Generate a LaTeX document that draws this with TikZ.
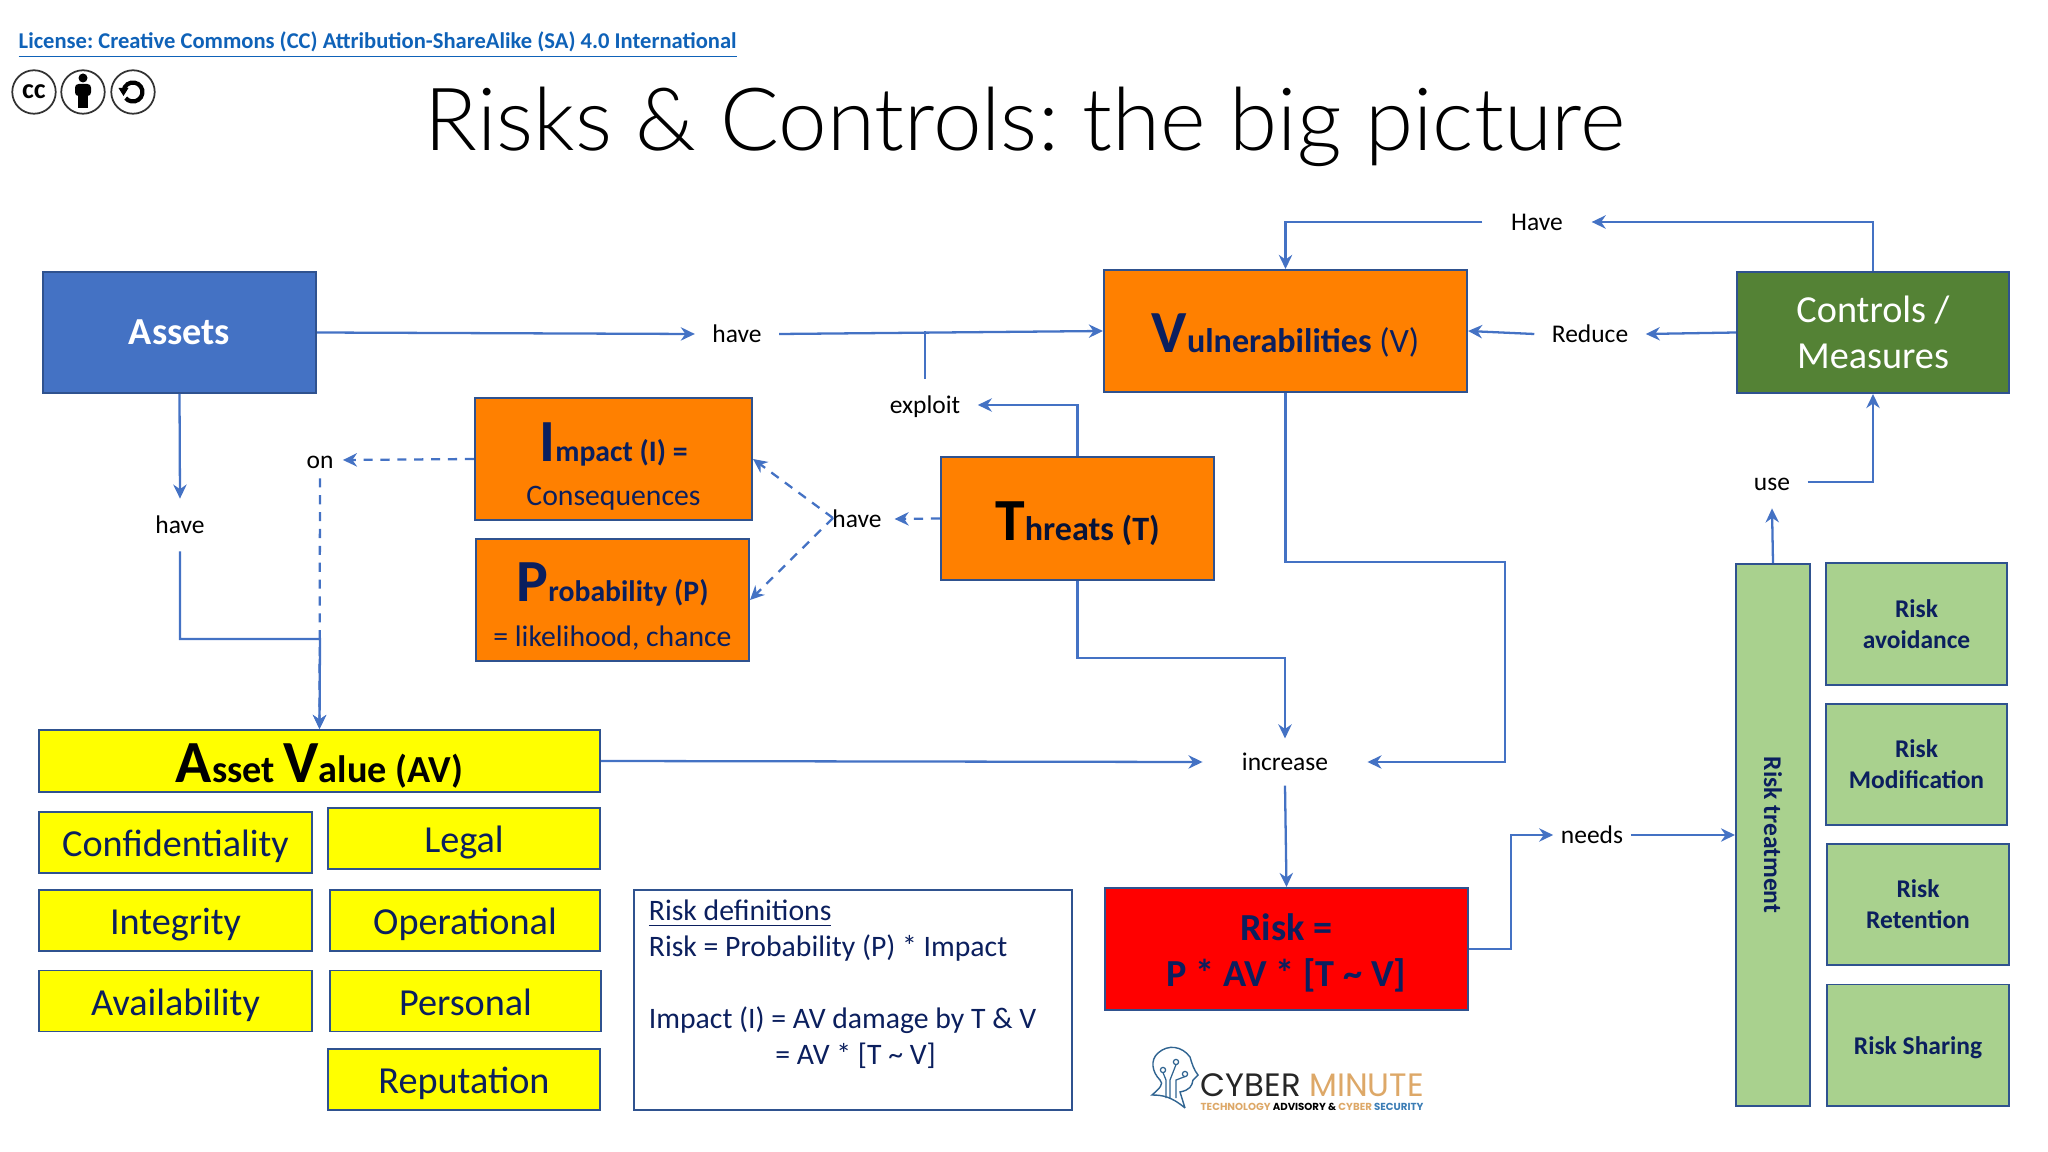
\documentclass[tikz,border=0pt]{standalone}
\usepackage{fontspec}
\setmainfont{Carlito}
\newfontfamily\logofont{Poppins}
\newfontfamily\titlefont{Lato Light}
\usepackage{xcolor}
\usetikzlibrary{arrows.meta,positioning}

\definecolor{lineblue}{HTML}{4472C4}
\definecolor{edgeblue}{HTML}{2F528F}
\definecolor{navy}{HTML}{0B1F5E}
\definecolor{linkblue}{HTML}{0F62B8}
\definecolor{boxorange}{HTML}{FF8000}
\definecolor{boxgreen}{HTML}{548235}
\definecolor{lightgreen}{HTML}{A9D18E}
\definecolor{boxyellow}{HTML}{FFFF00}
\definecolor{logotan}{HTML}{DDA868}
\definecolor{logoblue}{HTML}{3C7DB5}

\newcommand{\bigletter}[1]{{\fontsize{17}{17}\selectfont\bfseries #1}}
\newcommand{\fsz}[1]{\fontsize{#1}{#1}\selectfont}
\newcommand{\normalspaces}{\spaceskip=0.226em\relax}

\begin{document}
\frenchspacing
\begin{tikzpicture}[
  x=0.01cm, y=-0.01cm,
  >={Stealth[length=4pt,width=3.8pt]},
  box/.style={draw=edgeblue, line width=0.55pt, align=center, inner sep=0pt},
  hugebox/.style={box, fill=boxorange, minimum width=2.73cm, minimum height=1.22cm, text=navy},
  yellowbox/.style={box, fill=boxyellow, minimum width=2.73cm, minimum height=0.61cm, text=navy, font=\fsz{10.87}, text height=8.2pt, text depth=0pt},
  greenbox/.style={box, fill=lightgreen, minimum width=1.81cm, minimum height=1.21cm, text=navy, font=\fsz{7.25}\bfseries, text width=1.7cm},
  lbl/.style={font=\fsz{7.25}, inner sep=4.8pt, text height=5pt, text depth=0pt},
  conn/.style={draw=lineblue, line width=0.65pt, ->},
  plain/.style={draw=lineblue, line width=0.65pt},
  dashconn/.style={conn, dashed, dash pattern=on 2.6pt off 2.2pt},
]
  \useasboundingbox (0,0) rectangle (2048,1152);

  % Heading
  \node[font=\titlefont\fsz{24.8}, inner sep=0pt] (title) at (1025,127) {Risks \& Controls: the big picture};
  \node[font=\fsz{6.42}\bfseries, text=linkblue, anchor=west, inner sep=0pt] (license) at (18,45)
    {\underline{License: Creative Commons (CC) Attribution-ShareAlike (SA) 4.0 International}};

  % Licence icons
  \node[draw=black!80, line width=0.5pt, circle, minimum size=1.26cm/2.9, inner sep=0pt, font=\fsz{8}\bfseries] (ccicon) at (34,92) {cc};
  \node[draw=black!80, line width=0.5pt, circle, minimum size=1.26cm/2.9, inner sep=0pt] (byicon) at (83,92) {};
  \node[draw=black!80, line width=0.5pt, circle, minimum size=1.26cm/2.9, inner sep=0pt] (saicon) at (133,92) {};
  \fill (83,78) circle (4.5);
  \fill[rounded corners=1pt] (75,84) rectangle (91,96);
  \fill (78,90) rectangle (88,108);
  \draw[line width=1.2pt] (123.6,90.35) arc (190:500:9.5);
  \fill (118.5,88) -- (128.5,88) -- (123.5,96) -- cycle;

  % Top row
  \node[box, fill=lineblue, draw=edgeblue, minimum width=2.73cm, minimum height=1.21cm, text=white, font=\fsz{10.87}\bfseries] (assets) at (179.5,332.5) {Assets};
  \node[hugebox, minimum width=3.63cm, text height=13.6pt] (vuln) at (1285.5,331)
    {\bigletter{V}\fsz{9.7}\textbf{ulnerabilities} (V)};
  \node[box, fill=boxgreen, minimum width=2.72cm, minimum height=1.21cm, text=white, font=\fontsize{10.87}{13}\selectfont] (controls) at (1873,332.5) {Controls /\\Measures};

  % Impact, probability, threats
  \node[hugebox, minimum width=2.77cm, font=\fontsize{8.45}{12.2}\selectfont] (impact) at (613.5,459)
    {\rule{0pt}{15.3pt}\bigletter{I}\textbf{mpact (I) =}\\[0.4pt]Consequences};
  \node[hugebox, font=\fontsize{8.45}{12.2}\selectfont] (prob) at (612.5,600)
    {\rule{0pt}{14.8pt}\bigletter{P}\textbf{robability (P)}\\[0.4pt]= likelihood, chance};
  \node[hugebox, text=black, text height=14pt] (threats) at (1077.5,518.5)
    {\bigletter{T}\fsz{9.7}\textbf{\textcolor{navy!60!black}{hreats (T)}}};

  % Asset value block
  \node[box, fill=boxyellow, minimum width=5.61cm, minimum height=0.62cm, text=black, font=\fsz{10.87}\bfseries, text height=14pt] (av) at (319.5,761)
    {\bigletter{A}sset \bigletter{V}alue (AV)};
  \node[yellowbox] (conf) at (175.5,842.5) {Confidentiality};
  \node[yellowbox, minimum width=2.72cm] (legal) at (464,838.5) {Legal};
  \node[yellowbox] (integ) at (175.5,920.5) {Integrity};
  \node[yellowbox, minimum width=2.7cm] (oper) at (465,920.5) {Operational};
  \node[yellowbox] (avail) at (175.5,1001) {Availability};
  \node[yellowbox, minimum width=2.71cm] (pers) at (465.5,1001) {Personal};
  \node[yellowbox, minimum width=2.72cm] (rep) at (464,1079.5) {Reputation};

  % Definitions
  \node[box, fill=white, minimum width=4.38cm, minimum height=2.2cm, text=navy, align=left, text width=4.08cm, font=\fontsize{8.45}{10.2}\selectfont] (defs) at (853,1000)
    {\normalspaces\underline{Risk definitions}\\Risk = Probability (P) * Impact\\\mbox{}\\Impact (I) = AV damage by T \& V\\\hspace*{36pt}= AV * [T \textasciitilde{} V]\\\mbox{}};

  % Risk
  \node[box, fill=red, minimum width=3.63cm, minimum height=1.22cm, text=navy, font=\fontsize{10.87}{13}\selectfont\bfseries] (risk) at (1286.5,949)
    {\rule{0pt}{9.8pt}Risk =\\P * AV * [T \textasciitilde{} V]};

  % Treatment column
  \node[box, fill=lightgreen, minimum width=5.42cm, minimum height=0.74cm, text=navy, font=\fsz{7.25}\bfseries, rotate=-90] (treat) at (1773,835) {Risk treatment};
  \node[greenbox] (ravoid) at (1916.5,624) {Risk\\[1.5pt]avoidance};
  \node[greenbox] (rmod) at (1916.5,764.5) {Risk\\[1.5pt]Modification};
  \node[greenbox, minimum width=1.82cm] (rret) at (1918,904.5) {Risk\\[1.5pt]Retention};
  \node[greenbox, minimum width=1.82cm, text height=6.5pt] (rshare) at (1918,1045) {\normalspaces Risk Sharing};

  % Connector labels
  \node[lbl] (have1) at (737,334) {have};
  \node[lbl, inner xsep=8pt] (have2) at (1537,222) {Have};
  \node[lbl] (reduce) at (1590,334) {Reduce};
  \node[lbl] (exploit) at (925,405) {exploit};
  \node[lbl] (have3) at (180,525) {have};
  \node[lbl, inner sep=2.5pt] (on) at (320,460) {on};
  \node[lbl, inner sep=3.5pt] (have4) at (857,519) {have};
  \node[lbl, inner xsep=11pt, inner ysep=4pt] (increase) at (1285,762) {increase};
  \node[lbl, inner xsep=2pt] (needs) at (1592,835) {needs};
  \node[lbl] (use) at (1772,482) {use};

  % Elbows
  \coordinate (avjoin) at (320,639);
  \coordinate (fork) at (833,518);
  \coordinate (incjoin) at (1285,658);
  \coordinate (vjoin) at (1505,562);
  \coordinate (needsjoin) at (1511,835);

  % Connectors
  \draw[conn] (assets.east) -- (have1.west);
  \draw[conn] (have1.east) -- (vuln.west);
  \draw[plain] (exploit.north) -- (exploit.north |- vuln.west);
  \draw[conn] (threats.north) |- (exploit.east);
  \draw[conn] (have2.west) -| (vuln.north);
  \draw[conn] (controls.north) |- (have2.east);
  \draw[conn] (controls.west) -- (reduce.east);
  \draw[conn] (reduce.west) -- (vuln.east);
  \draw[conn] (assets.south) -- (have3.north);
  \draw[conn] (have3.south) |- (avjoin) -- (av.north);
  \draw[dashconn] (impact.west) -- (on.east);
  \draw[dashconn] (on.south) -- (av.north);
  \draw[dashconn] (threats.west) -- (have4.east);
  \draw[dashconn] (fork) -- (impact.east);
  \draw[dashconn] (fork) -- (prob.east);
  \draw[conn] (threats.south) |- (incjoin) -- (increase.north);
  \draw[conn] (vuln.south) |- (vjoin) |- (increase.east);
  \draw[conn] (av.east) -- (increase.west);
  \draw[conn] (increase.south) -- (risk.north);
  \draw[conn] (risk.east) -| (needsjoin) -- (needs.west);
  \draw[conn] (needs.east) -- (treat.south);
  \draw[conn] (treat.west) -- (use.south);
  \draw[conn] (use.east) -| (controls.south);

  % Logo
  \draw[logoblue!80!black, line width=0.4pt] (1185,1108) .. controls (1172,1097) and (1163,1095) .. (1152,1095)
    .. controls (1160,1088) and (1164,1084) .. (1160,1080)
    .. controls (1152,1072) and (1150,1060) .. (1158,1053)
    .. controls (1168,1044) and (1182,1046) .. (1190,1057)
    .. controls (1192,1064) and (1194,1070) .. (1198,1075)
    -- (1193,1080) .. controls (1192,1086) and (1190,1090) .. (1180,1092) -- (1185,1108);
  \foreach \cx/\cy/\ex in {1176/1062/1170,1163/1070/1166,1185/1074/1176} {
    \draw[logoblue!80!black, line width=0.35pt] (\cx,\cy) circle (2.6);
    \draw[logoblue!80!black, line width=0.35pt] (\cx,\cy+2.6) -- (\ex,1080) -- (\ex,1098);
  }
  \node[font=\logofont\fsz{9.2}, anchor=west, inner sep=0pt] (logoname) at (1200,1085)
    {\textcolor{black!85}{CYBER} \textcolor{logotan}{MINUTE}};
  \node[font=\logofont\fsz{2.9}\bfseries, anchor=west, inner sep=0pt] (logotag) at (1200,1107)
    {\textcolor{logotan}{TECHNOLOGY} \textcolor{black}{ADVISORY \&} \textcolor{logotan}{CYBER} \textcolor{logoblue}{SECURITY}};
\end{tikzpicture}
\end{document}
